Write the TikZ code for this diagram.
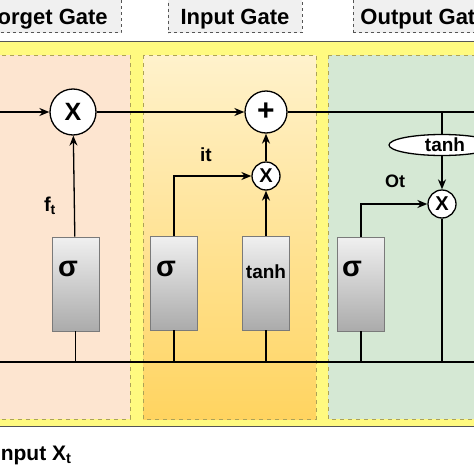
\documentclass[tikz,border=0pt]{standalone}
\usepackage{fontspec}
\setmainfont{Liberation Sans}
\usetikzlibrary{shapes.geometric,arrows.meta}
\definecolor{cellyellow}{HTML}{FFFA80}
\definecolor{forgetfill}{HTML}{FDE5D0}
\definecolor{inputtop}{HTML}{FFF2CC}
\definecolor{inputbot}{HTML}{FFD460}
\definecolor{outputfill}{HTML}{D5E8D4}
\definecolor{paneldash}{HTML}{ACA257}
\definecolor{rulegray}{HTML}{555555}
\definecolor{boxtop}{HTML}{F0F0F0}
\definecolor{boxbot}{HTML}{ABABAB}
\definecolor{boxedge}{HTML}{7A7A7A}
\definecolor{tagfill}{HTML}{F0F0F0}
\begin{document}
\begin{tikzpicture}[x=1pt,y=-1pt,>={Stealth[length=10pt,width=8pt]},font=\bfseries,line width=1.3pt,
	panel/.style={draw=paneldash,line width=0.9pt,dash pattern=on 4pt off 4pt},
	gatetag/.style={draw=rulegray,fill=tagfill,line width=0.9pt,dash pattern=on 3pt off 3pt,anchor=south,
		minimum height=40,text height=24pt,text depth=0pt,font=\fontsize{22}{26}\selectfont\bfseries},
	bigop/.style={circle,draw,fill=white,inner sep=0,minimum size=#1},
	gatebox/.style={rectangle,draw=boxedge,line width=0.8pt,top color=boxtop,bottom color=boxbot,minimum width=47,minimum height=94},
	sym/.style={font=\fontsize{29}{29}\selectfont\bfseries},
	lbl/.style={font=\fontsize{#1}{#1}\selectfont\bfseries}]
	\def\yc{112} \def\yin{362}
	\useasboundingbox (0,0) rectangle (474,474);
	% background panels
	\fill[cellyellow] (-5,42) rectangle (480,426);
	\draw[rulegray,line width=1.5pt] (-5,41.5)--(480,41.5);
	\draw[rulegray,line width=1.5pt] (-5,426.5)--(480,426.5);
	\fill[forgetfill] (-10,55) rectangle (130,419);
	\draw[panel] (-10,55) rectangle (130,419);
	\fill[top color=inputtop,bottom color=inputbot] (143,55) rectangle (316,419);
	\draw[panel] (143,55) rectangle (316,419);
	\fill[outputfill] (328,55) rectangle (490,419);
	\draw[panel] (328,55) rectangle (490,419);
	% gate tags
	\node[gatetag,minimum width=150] (tagf) at (46,33) {Forget Gate};
	\node[gatetag,minimum width=134] (tagi) at (235,33) {Input Gate};
	\node[gatetag,anchor=south west,inner xsep=7pt] (tago) at (353,33) {Output Gate};
	%===========================================
	\coordinate (cin) at (0,\yc);
	\coordinate (cout) at (474,\yc);
	\coordinate (tap) at (442,\yc);
	\coordinate (inl) at (0,\yin);
	\coordinate (inr) at (474,\yin);
	\node[bigop=46,lbl=25] (mulf) at (73,\yc) {X};
	\node[bigop=42,lbl=30] (add) at (266,\yc) {+};
	\node[bigop=28,lbl=20] (muli) at (266,176) {X};
	\node[bigop=28,lbl=20] (mulo) at (442,204) {X};
	\node[ellipse,draw,fill=white,inner sep=0,minimum width=106,minimum height=21,lbl=19] (tanho) at (442,145) {\hspace*{6pt}tanh};
	\node[gatebox] (sigf) at (75.5,284) {};
	\node[gatebox] (sigi) at (174,283) {};
	\node[gatebox] (tanhi) at (266,283) {};
	\node[gatebox] (sigo) at (361,284) {};
	\node[sym] (sigfs) at (68,269) {σ};
	\node[sym] (sigis) at (166,269) {σ};
	\node[lbl=19] (tanhis) at (266,272) {tanh};
	\node[sym] (sigos) at (352,269) {σ};
	\node[lbl=20] (ft) at (50,206) {f\textsubscript{t}};
	\node[lbl=19] (it) at (206,155) {it};
	\node[lbl=18] (ot) at (395,181) {Ot};
	\node[lbl=21,anchor=base west] (xin) at (-9,460) {Input X\textsubscript{t}};
	% connectors
	\draw[->] (cin)--(mulf);
	\draw[->] (mulf)--(add);
	\draw (add)--(cout);
	\draw (tap)--(tanho);
	\draw[->] (tanho)--(mulo);
	\draw[->] (sigf)--(mulf);
	\draw[->] (sigi.north) |- (muli);
	\draw[->] (tanhi)--(muli);
	\draw[->] (muli)--(add);
	\draw[->] (sigo.north) |- (mulo);
	\draw (mulo.south)--(mulo.south |- inl);
	\draw (inl)--(inr);
	\foreach \b in {sigf,sigi,tanhi,sigo}
		\draw (\b.south)--(\b.south |- inl);
\end{tikzpicture}
\end{document}
